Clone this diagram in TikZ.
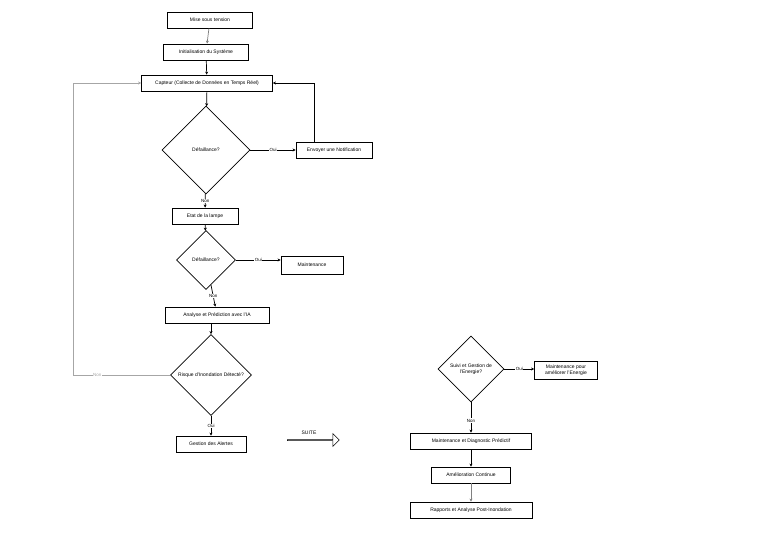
\documentclass[tikz,border=0pt]{standalone}
\usepackage{fontspec}
\setmainfont{Liberation Sans}
\usetikzlibrary{shapes.geometric,shapes.arrows,arrows.meta}
\begin{document}
\begin{tikzpicture}[x=1pt,y=-1pt,font=\fontsize{5}{6}\selectfont,
  box/.style={draw,line width=0.8pt,minimum width=#1,minimum height=16pt,inner sep=1pt},
  dia/.style={draw,line width=0.8pt,diamond,minimum width=#1,minimum height=#1,inner sep=0pt,align=center},
  arr/.style={draw,line width=0.7pt,-{Stealth[length=3pt,width=3pt]}},
  lab/.style={fill=white,inner sep=0.5pt,font=\fontsize{4.5}{5}\selectfont}]
\useasboundingbox (0,0) rectangle (768,543);
\node[box=85pt] (a) at (210,20) {Mise sous tension};
\node[box=85pt] (b) at (206,52) {Initialisation du Système};
\node[box=131pt] (c) at (207,83) {Capteur (Collecte de Données en Temps Réel)};
\node[dia=88pt] (d1) at (206,150) {Défaillance?};
\node[box=76pt] (e) at (334,150) {Envoyer une Notification};
\node[box=66pt] (f) at (205,216) {Etat de la lampe};
\node[dia=59pt] (d2) at (206,260) {Défaillance?};
\node[box=62pt,minimum height=18pt] (g) at (312,265) {Maintenance};
\node[box=104pt] (h) at (217,315) {Analyse et Prédiction avec l'IA};
\node[dia=81pt] (d3) at (211,375) {Risque d'Inondation Détecté?};
\node[box=70pt] (i) at (211,444) {Gestion des Alertes};
\node[single arrow,draw,line width=0.5pt,minimum height=52pt,minimum width=13pt,single arrow head extend=3pt,inner sep=0pt] (s) at (313,440) {};
\node (st) at (309,433) {SUITE};
\node[dia=66pt] (d4) at (471,369) {Suivi et Gestion de\\l'Energie?};
\node[box=63pt,minimum height=18pt,align=center] (j) at (566,370) {Maintenance pour\\améliorer l'Energie};
\node[box=121pt] (k) at (471,441) {Maintenance et Diagnostic Prédictif};
\node[box=79pt] (l) at (471,475) {Amélioration Continue};
\node[box=122pt] (m) at (471,510) {Rapports et Analyse Post-Inondation};
\draw[arr,gray] (a) -- (b);
\draw[arr] (b) -- (c);
\draw[arr] (c) -- (d1);
\draw[arr] (d1) -- node[lab]{Oui} (e);
\draw[arr] (e.north -| 314,0) |- (c.east);
\draw[arr] (d1) -- node[lab]{Non} (f);
\draw[arr] (f) -- (d2);
\draw[arr] (d2.east) -- node[lab]{Oui} (d2.east -| g.west);
\draw[arr] (d2) -- node[lab]{Non} (h);
\draw[arr] (h.south -| d3.north) -- (d3);
\draw[arr,gray!70] (d3.west) -- node[lab,pos=0.75]{Non} (73,375) |- (c.west);
\draw[arr] (d3) -- node[lab]{Oui} (i);
\draw[arr] (d4.east) -- node[lab]{Oui} (j.west |- d4.east);
\draw[arr] (d4) -- node[lab,pos=0.6]{Non} (k);
\draw[arr] (k) -- (l);
\draw[arr,gray] (l) -- (m);
\end{tikzpicture}
\end{document}
